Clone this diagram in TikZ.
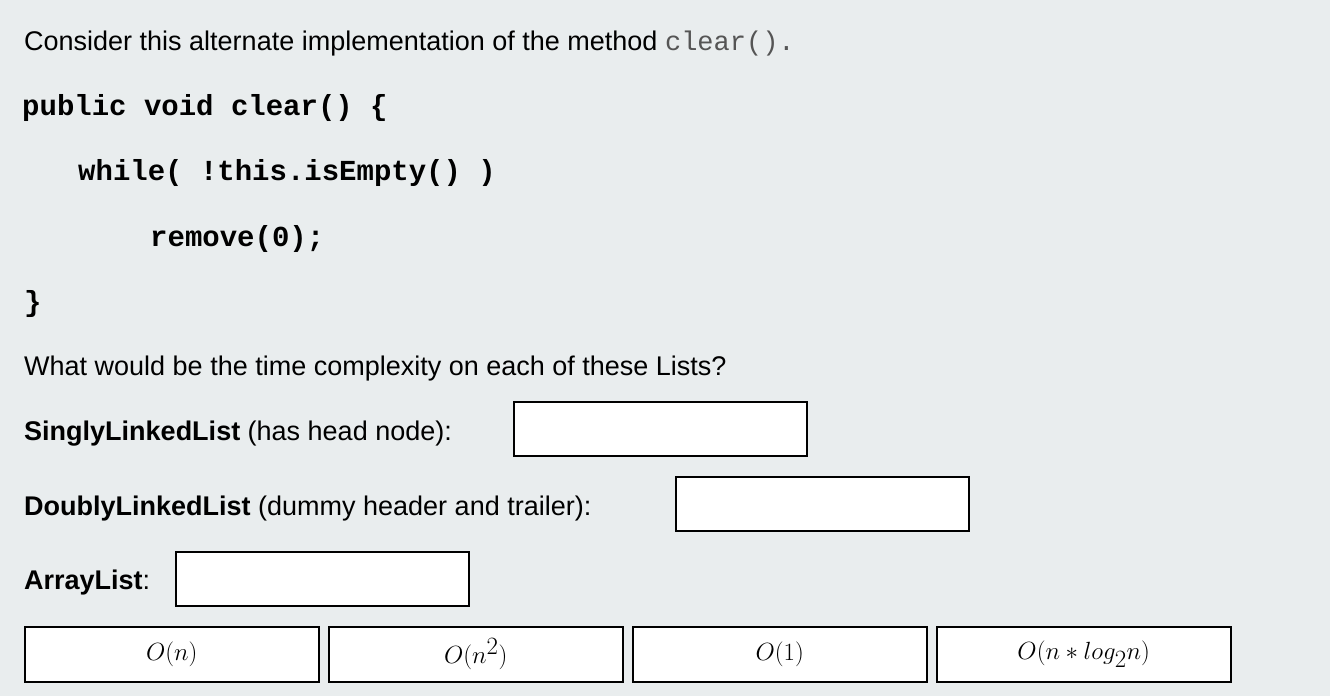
\documentclass[tikz,border=0pt]{standalone}
\usepackage{fontspec}
\setmainfont{Liberation Sans}
\setmonofont{Liberation Mono}
\definecolor{bgc}{HTML}{E9EDEE}
\definecolor{codegray}{HTML}{555555}
\begin{document}
\begin{tikzpicture}[x=1pt,y=-1pt,
  txt/.style={anchor=base west,inner sep=0pt,font=\fontsize{27}{30}\selectfont},
  code/.style={anchor=base west,inner sep=0pt,font=\fontsize{29}{32}\selectfont\ttfamily\bfseries},
  ansbox/.style={draw=black,line width=1.5pt,fill=white,minimum height=54pt,inner sep=0pt},
  optbox/.style={draw=black,line width=1.5pt,fill=white,minimum width=294pt,minimum height=55pt,inner sep=0pt,font=\fontsize{34}{38}\selectfont}]
\fill[bgc] (0,0) rectangle (1330,696);
\useasboundingbox (0,0) rectangle (1330,696);
\node[txt] (t1) at (24,50) {Consider this alternate implementation of the method {\color{codegray}\ttfamily clear().}};
\node[code] (c1) at (22,115) {public void clear() \{};
\node[code] (c2) at (78,180) {while( !this.isEmpty() )};
\node[code] (c3) at (150,246) {remove(0);};
\node[code] (c4) at (24,311) {\}};
\node[txt] (t2) at (24,375) {What would be the time complexity on each of these Lists?};
\node[txt] (t3) at (24,440) {\textbf{SinglyLinkedList} (has head node):};
\node[ansbox,minimum width=293pt,anchor=north west] (b1) at (513,401) {};
\node[txt] (t4) at (24,515) {\textbf{DoublyLinkedList} (dummy header and trailer):};
\node[ansbox,minimum width=293pt,anchor=north west] (b2) at (675,476) {};
\node[txt] (t5) at (24,589) {\textbf{ArrayList}:};
\node[ansbox,minimum width=293pt,anchor=north west] (b3) at (175,551) {};
\node[optbox,anchor=north west] (o1) at (24,626) {$O(n)$};
\node[optbox,anchor=north west] (o2) at (328,626) {$O(n^2)$};
\node[optbox,anchor=north west] (o3) at (632,626) {$O(1)$};
\node[optbox,anchor=north west] (o4) at (936,626) {$O(n*log_2n)$};
\end{tikzpicture}
\end{document}
